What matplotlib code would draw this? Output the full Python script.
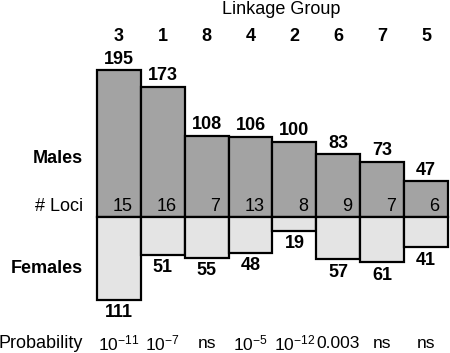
import numpy as np
import matplotlib
matplotlib.use('Agg')
import matplotlib.pyplot as plt

plt.rcParams['font.family'] = ['Liberation Sans', 'DejaVu Sans']
plt.rcParams['mathtext.fontset'] = 'custom'
plt.rcParams['mathtext.rm'] = 'Liberation Sans'

# data
groups = ['3', '1', '8', '4', '2', '6', '7', '5']
males = [195, 173, 108, 106, 100, 83, 73, 47]
females = [111, 51, 55, 48, 19, 57, 61, 41]
loci = [15, 16, 7, 13, 8, 9, 7, 6]
probs = [r'$\mathregular{10^{-11}}$', r'$\mathregular{10^{-7}}$', 'ns',
         r'$\mathregular{10^{-5}}$', r'$\mathregular{10^{-12}}$', '0.003', 'ns', 'ns']

fs = 13

fig = plt.figure(figsize=(4.5, 3.53), dpi=100)
ax = fig.add_axes([0, 0, 1, 1])
ax.set_xlim(-2.211, 8.046)
ax.set_ylim(-181.7, 288.9)
ax.axis('off')

x = np.arange(len(groups))
ax.bar(x, males, width=1, align='edge', color='#a3a3a3', edgecolor='black', linewidth=1.6)
ax.bar(x, [-f for f in females], width=1, align='edge', color='#e4e4e4', edgecolor='black', linewidth=1.6)

for i in range(len(groups)):
    c = x[i] + 0.5
    ax.annotate(str(males[i]), (c, males[i]), xytext=(0, 2), textcoords='offset points',
                ha='center', va='bottom', fontsize=fs, fontweight='bold')
    ax.annotate(str(females[i]), (c, -females[i]), xytext=(0, -3), textcoords='offset points',
                ha='center', va='top', fontsize=fs, fontweight='bold')
    ax.annotate(str(loci[i]), (x[i] + 1, 0), xytext=(-6, 7), textcoords='offset points',
                ha='right', va='center', fontsize=fs)
    ax.text(c, 239.6, groups[i], ha='center', va='center', fontsize=fs, fontweight='bold')
    ax.text(c, -168.5, probs[i], ha='center', va='center', fontsize=12.5)

ax.text(4.2, 275.6, 'Linkage Group', ha='center', va='center', fontsize=fs)
ax.text(-0.32, 78, 'Males', ha='right', va='center', fontsize=fs, fontweight='bold')
ax.text(-0.32, 13, '# Loci', ha='right', va='center', fontsize=fs)
ax.text(-0.32, -68.5, 'Females', ha='right', va='center', fontsize=fs, fontweight='bold')
ax.text(-0.32, -168.5, 'Probability', ha='right', va='center', fontsize=fs)

plt.savefig('out.png', dpi=100)
